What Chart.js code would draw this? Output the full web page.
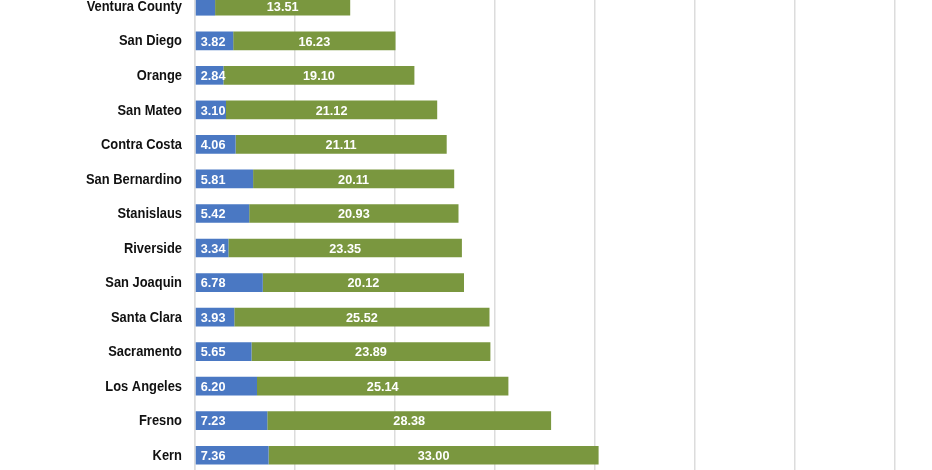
<!DOCTYPE html>
<html>
<head>
<meta charset="utf-8">
<script src="https://cdn.jsdelivr.net/npm/chart.js@4/dist/chart.umd.min.js"></script>
<style>
    html, body { margin: 0; padding: 0; background: #ffffff; overflow: hidden; }
    #wrap { position: absolute; left: 0; top: -11.25px; width: 995px; height: 483.5px; }
</style>
</head>
<body>
<div id="wrap"><canvas id="countyChart"></canvas></div>
<script>
// comtés, du haut vers le bas
var counties = ["Ventura County", "San Diego", "Orange", "San Mateo", "Contra Costa",
    "San Bernardino", "Stanislaus", "Riverside", "San Joaquin", "Santa Clara",
    "Sacramento", "Los Angeles", "Fresno", "Kern"];
var blueValues = [2.01, 3.82, 2.84, 3.10, 4.06, 5.81, 5.42, 3.34, 6.78, 3.93, 5.65, 6.20, 7.23, 7.36];
var greenValues = [13.51, 16.23, 19.10, 21.12, 21.11, 20.11, 20.93, 23.35, 20.12, 25.52, 23.89, 25.14, 28.38, 33.00];
var xTicks = [0, 10, 20, 30, 40, 50, 60, 70, 80];

var labelFont = "bold 13.5px 'Liberation Sans', Arial, sans-serif";
var countyFont = "bold 15px 'Liberation Sans', Arial, sans-serif";

// étiquettes de valeurs dans les barres + noms des comtés (un peu condensés)
var valueLabels = {
    id: "valueLabels",
    afterDatasetsDraw: function (chart) {
        var ctx = chart.ctx;
        ctx.save();
        ctx.fillStyle = "#ffffff";
        ctx.textBaseline = "middle";
        chart.data.datasets.forEach(function (ds, i) {
            var meta = chart.getDatasetMeta(i);
            meta.data.forEach(function (bar, j) {
                var left = Math.min(bar.x, bar.base);
                var right = Math.max(bar.x, bar.base);
                var txt = ds.data[j].toFixed(2);
                // trop étroit : pas d'étiquette
                if (right - left < 25) return;
                ctx.font = labelFont;
                ctx.save();
                if (i === 0) {
                    ctx.textAlign = "left";
                    ctx.translate(left + 5, bar.y + 1);
                } else {
                    ctx.textAlign = "center";
                    ctx.translate((left + right) / 2, bar.y + 1);
                }
                ctx.scale(0.94, 1);
                ctx.fillText(txt, 0, 0);
                ctx.restore();
            });
        });

        var yScale = chart.scales.y;
        ctx.font = countyFont;
        ctx.fillStyle = "#111111";
        ctx.textAlign = "right";
        counties.forEach(function (name, j) {
            ctx.save();
            ctx.translate(182, yScale.getPixelForValue(j) + 0.5);
            ctx.scale(0.86, 1);
            ctx.fillText(name, 0, 0);
            ctx.restore();
        });
        ctx.restore();
    }
};

new Chart(document.getElementById("countyChart"), {
    type: "bar",
    data: {
        labels: counties,
        datasets: [
            {
                data: blueValues,
                backgroundColor: "#4a78c3",
                borderWidth: 0,
                categoryPercentage: 1,
                barPercentage: 0.54
            },
            {
                data: greenValues,
                backgroundColor: "#7a973f",
                borderWidth: 0,
                categoryPercentage: 1,
                barPercentage: 0.54
            }
        ]
    },
    options: {
        indexAxis: "y",
        responsive: true,
        maintainAspectRatio: false,
        animation: false,
        layout: { padding: 0 },
        plugins: {
            legend: { display: false },
            tooltip: { enabled: false }
        },
        scales: {
            x: {
                stacked: true,
                min: xTicks[0],
                max: xTicks[xTicks.length - 1],
                afterBuildTicks: function (scale) {
                    scale.ticks = xTicks.map(function (v) { return { value: v }; });
                },
                afterFit: function (scale) {
                    scale.height = 0;
                    scale.paddingLeft = 0;
                    scale.paddingRight = 0;
                },
                ticks: { display: false },
                grid: { color: "#dcdcdc", lineWidth: 1.5, drawTicks: false },
                border: { display: false }
            },
            y: {
                stacked: true,
                afterFit: function (scale) {
                    scale.width = 195;
                    scale.paddingTop = 0;
                    scale.paddingBottom = 0;
                },
                ticks: { display: false },
                grid: { display: false, drawTicks: false },
                border: { display: true, color: "#dcdcdc", width: 1.5 }
            }
        }
    },
    plugins: [valueLabels]
});
</script>
</body>
</html>
